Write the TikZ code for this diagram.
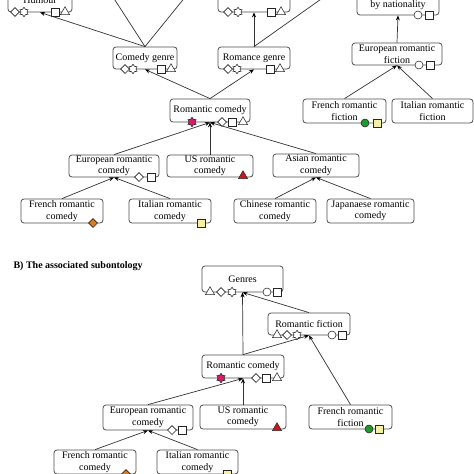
\documentclass[tikz,border=0pt]{standalone}
\usepackage{fontspec}
\setmainfont{Liberation Serif}
\usepackage[dvipsnames]{xcolor}
\usetikzlibrary{arrows, arrows.meta, shapes.geometric}
\definecolor{rubine}{HTML}{D81B6A}
\definecolor{leaf}{HTML}{1E9A2C}
\definecolor{paleyel}{HTML}{F6F1A2}
\definecolor{amber}{HTML}{E07B1A}
\definecolor{signal}{HTML}{D0141C}

\tikzset{
  concept/.style={draw=black!70, line width=0.8pt, rounded corners=3pt, align=center,
    inner xsep=1pt, inner ysep=0.5pt, font=\fontsize{10}{11.5}\selectfont},
  isa/.style={draw=black!80, line width=0.7pt, -{Stealth[length=5pt,width=4pt,black]}},
  icon/.style={draw=black!85, line width=0.55pt, fill=white, inner sep=0pt},
  ictri/.style={icon, regular polygon, regular polygon sides=3, minimum size=10.5pt},
  icdia/.style={icon, diamond, minimum size=9pt},
  icstar/.style={icon, star, star points=6, star point ratio=1.6, minimum size=9.5pt},
  icsq/.style={icon, rectangle, minimum size=8pt},
  iccirc/.style={icon, circle, minimum size=8pt},
}

\begin{document}
\begin{tikzpicture}[x=1pt, y=-1pt]
\useasboundingbox (0,0) rectangle (474,474);
\clip (0,0) rectangle (474,474);

%% A) upper part of the ontology
\node[concept, minimum width=64, minimum height=24] (hum) at (40,0) {Humour};
\node[concept, minimum width=72, minimum height=22] (topnode) at (254,1) {};
\node[concept, minimum width=82, minimum height=20] (nat) at (398,5) {by nationality};
\node[concept, minimum width=64, minimum height=22] (cg) at (145,58) {Comedy genre};
\node[concept, minimum width=72, minimum height=22] (rg) at (254,58) {Romance genre};
\node[concept, minimum width=90, minimum height=22] (erf) at (397,54) {European romantic\\fiction};
\node[concept, minimum width=80, minimum height=23] (rca) at (210,110.5) {Romantic comedy};
\node[concept, minimum width=83, minimum height=24] (frf) at (344.5,111) {French romantic\\fiction};
\node[concept, minimum width=81, minimum height=24] (irf) at (432.5,111) {Italian romantic\\fiction};
\node[concept, minimum width=90, minimum height=22] (erca) at (114,166) {European romantic\\comedy};
\node[concept, minimum width=86, minimum height=22] (usa) at (210,166) {US romantic\\comedy};
\node[concept, minimum width=86, minimum height=23] (asa) at (316,165.5) {Asian romantic\\comedy};
\node[concept, minimum width=82, minimum height=24] (frca) at (62,211) {French romantic\\comedy};
\node[concept, minimum width=82, minimum height=24] (irca) at (170,211) {Italian romantic\\comedy};
\node[concept, minimum width=82, minimum height=24] (crc) at (275,211) {Chinese romantic\\comedy};
\node[concept, minimum width=87, minimum height=24] (jrc) at (370.5,211) {Japanaese romantic\\comedy};

% parents above the cut
\coordinate (up1) at (102,-20);
\coordinate (up2) at (199,-20);
\coordinate (up3) at (348,-20);

\draw[isa] (cg.north) -- (hum.south);
\draw[isa] (cg.north) -- (up1);
\draw[isa] (cg.north) -- (up2);
\draw[isa] (rg.north) -- (topnode.south);
\draw[isa] (rg.north) -- (up3);
\draw[isa] (erf.north) -- (nat.south);
\draw[isa] (rca.north) -- (cg.south);
\draw[isa] (rca.north) -- (rg.south);
\draw[isa] (frf.north) -- (erf.south);
\draw[isa] (irf.north) -- (erf.south);
\draw[isa] (erca.north) -- (rca.south);
\draw[isa] (usa.north) -- (rca.south);
\draw[isa] (asa.north) -- (rca.south);
\draw[isa] (frca.north) -- (erca.south);
\draw[isa] (irca.north) -- (erca.south);
\draw[isa] (crc.north) -- (asa.south);
\draw[isa] (jrc.north) -- (asa.south);

% markers on the lower edges
\foreach \s/\x [count=\i] in {icdia/15, icstar/24, icsq/55, ictri/65}
  \node[\s] (hum-\i) at (\x,12) {};
\foreach \s/\x [count=\i] in {icdia/228, icstar/238, icsq/271, ictri/281}
  \node[\s] (top-\i) at (\x,12) {};
\foreach \s/\x [count=\i] in {iccirc/418, icsq/429}
  \node[\s] (nat-\i) at (\x,15) {};
\foreach \s/\x [count=\i] in {icdia/125, icstar/133, icsq/161, ictri/171}
  \node[\s] (cg-\i) at (\x,69) {};
\foreach \s/\x [count=\i] in {icdia/228, icstar/237, icsq/270, ictri/280}
  \node[\s] (rg-\i) at (\x,69) {};
\foreach \s/\x [count=\i] in {iccirc/419, icsq/430}
  \node[\s] (erf-\i) at (\x,65) {};
\node[icstar, fill=rubine] (rca-0) at (192,122) {};
\foreach \s/\x [count=\i] in {icdia/222, icsq/232, ictri/243}
  \node[\s] (rca-\i) at (\x,122) {};
\node[iccirc, fill=leaf] (frf-1) at (365,123) {};
\node[icsq, fill=paleyel] (frf-2) at (377,123) {};
\foreach \s/\x [count=\i] in {icdia/139, icsq/151}
  \node[\s] (erca-\i) at (\x,177) {};
\node[ictri, fill=signal] (usa-1) at (243,176) {};
\node[icdia, fill=amber] (frca-1) at (93,223) {};
\node[icsq, fill=paleyel] (irca-1) at (201,223) {};

%% B) the associated subontology
\node[anchor=west, font=\bfseries] (titleB) at (10,266) {B) The associated subontology};
\node[concept, minimum width=81, minimum height=26] (gen) at (242.5,279) {Genres};
\node[concept, minimum width=82, minimum height=22] (rfb) at (309,324) {Romantic fiction};
\node[concept, minimum width=82, minimum height=23] (rcb) at (243,366.5) {Romantic comedy};
\node[concept, minimum width=90, minimum height=25] (ercb) at (148,417.5) {European romantic\\comedy};
\node[concept, minimum width=86, minimum height=24] (usb) at (243,417) {US romantic\\comedy};
\node[concept, minimum width=83, minimum height=24] (frfb) at (350.5,417) {French romantic\\fiction};
\node[concept, minimum width=82, minimum height=24] (frcb) at (95,462) {French romantic\\comedy};
\node[concept, minimum width=81, minimum height=24] (ircb) at (197.5,462) {Italian romantic\\comedy};

\draw[isa] (rfb.north) -- (gen.south);
\draw[isa] (rcb.north) -- (gen.south);
\draw[isa] (rcb.north) -- (rfb.south);
\draw[isa] (frfb.north) -- (rfb.south);
\draw[isa] (ercb.north) -- (rcb.south);
\draw[isa] (usb.north) -- (rcb.south);
\draw[isa] (frcb.north) -- (ercb.south);
\draw[isa] (ircb.north) -- (ercb.south);

\foreach \s/\x [count=\i] in {ictri/210, icdia/221, icstar/232, iccirc/267, icsq/277}
  \node[\s] (gen-\i) at (\x,292) {};
\foreach \s/\x [count=\i] in {ictri/277, icdia/287, icstar/297, iccirc/332, icsq/342}
  \node[\s] (rfb-\i) at (\x,335) {};
\node[icstar, fill=rubine] (rcb-0) at (221,378) {};
\foreach \s/\x [count=\i] in {icdia/256, icsq/266, ictri/277}
  \node[\s] (rcb-\i) at (\x,378) {};
\foreach \s/\x [count=\i] in {icdia/172, icsq/182}
  \node[\s] (ercb-\i) at (\x,430) {};
\node[ictri, fill=signal] (usb-1) at (277,428) {};
\node[iccirc, fill=leaf] (frfb-1) at (369,429) {};
\node[icsq, fill=paleyel] (frfb-2) at (379,429) {};
\node[icdia, fill=amber] (frcb-1) at (126,474) {};
\node[icsq, fill=paleyel] (ircb-1) at (227,474) {};
\end{tikzpicture}
\end{document}
